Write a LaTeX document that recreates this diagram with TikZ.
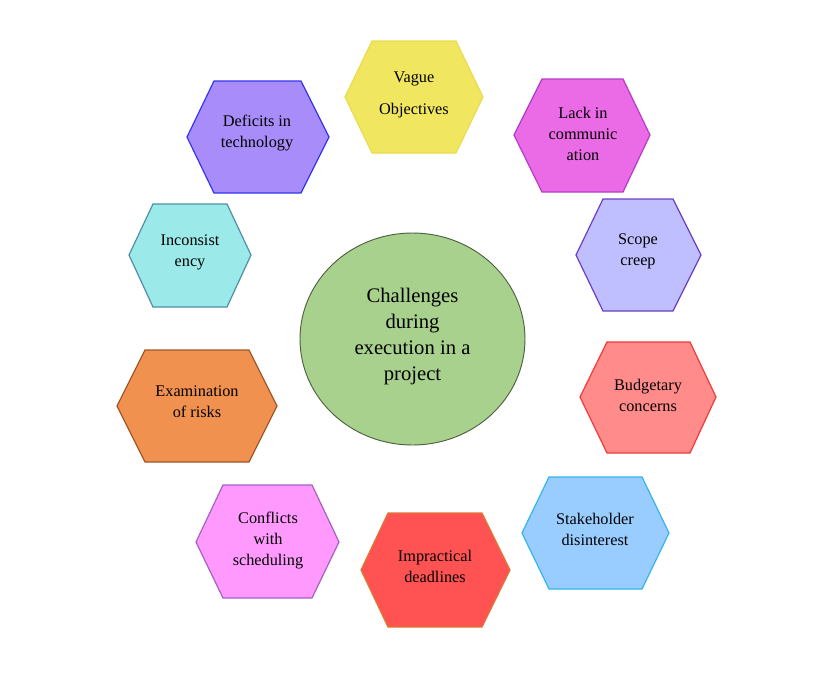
\documentclass[tikz,border=0pt]{standalone}
\usepackage{fontspec}
\setmainfont{Liberation Serif}
\definecolor{cVague}{HTML}{F0E660}\definecolor{bVague}{HTML}{EADC4E}
\definecolor{cDef}{HTML}{A88CFA}\definecolor{bDef}{HTML}{3535EE}
\definecolor{cLack}{HTML}{EB6AE6}\definecolor{bLack}{HTML}{B43CC8}
\definecolor{cInc}{HTML}{9CE9EA}\definecolor{bInc}{HTML}{4F8FA6}
\definecolor{cScope}{HTML}{BFBEFF}\definecolor{bScope}{HTML}{6A3FC4}
\definecolor{cExam}{HTML}{F0914F}\definecolor{bExam}{HTML}{A0582A}
\definecolor{cBud}{HTML}{FF8B8A}\definecolor{bBud}{HTML}{F23A3A}
\definecolor{cConf}{HTML}{FF99FD}\definecolor{bConf}{HTML}{A560C4}
\definecolor{cImp}{HTML}{FF5252}\definecolor{bImp}{HTML}{DD7733}
\definecolor{cStake}{HTML}{99CCFF}\definecolor{bStake}{HTML}{33B5EE}
\definecolor{cCenter}{HTML}{A9D18E}\definecolor{bCenter}{HTML}{4F6040}
\newcommand{\hexshape}[8]{% left right topleft topright top bottom midy colour-suffix
  \draw[hexline, fill=c#8, draw=b#8] (#1,#7) -- (#3,#5) -- (#4,#5) -- (#2,#7) -- (#4,#6) -- (#3,#6) -- cycle;}
\tikzset{
  hexline/.style={line width=0.9pt, line join=miter},
  hextext/.style={align=center, font=\fontsize{12.2pt}{15.75pt}\selectfont, inner sep=0pt},
  centertext/.style={align=center, font=\fontsize{15.5pt}{19.5pt}\selectfont, inner sep=0pt}
}
\begin{document}
\begin{tikzpicture}[x=0.75pt,y=-0.75pt]
\useasboundingbox (0,0) rectangle (840,676);
\fill[white] (0,0) rectangle (840,676);
% center ellipse
\draw[fill=cCenter, draw=bCenter, line width=0.7pt] (412.5,339) ellipse [x radius=112.5, y radius=106];
\node[centertext] (center) at (412.5,336.5) {Challenges\\during\\execution in a\\project};
% hexagons
\hexshape{345}{483}{372}{456}{41}{153}{97}{Vague}
\node[hextext, font=\fontsize{12.2pt}{24pt}\selectfont] (vague) at (414,94.5) {Vague\\Objectives};
\hexshape{187}{329}{214}{301}{81}{193}{137}{Def}
\node[hextext] (def) at (257,133.5) {Deficits in\\technology};
\hexshape{514}{650}{542}{623}{79}{192}{135}{Lack}
\node[hextext] (lack) at (583,134) {Lack in\\communic\\ation};
\hexshape{129}{251}{153}{227}{204}{307}{255}{Inc}
\node[hextext] (inc) at (190,252.5) {Inconsist\\ency};
\hexshape{576}{701}{603}{673}{199}{311}{255}{Scope}
\node[hextext] (scope) at (638,251.5) {Scope\\creep};
\hexshape{117}{277}{145}{249}{350}{462}{406}{Exam}
\node[hextext] (exam) at (197,402) {Examination\\of risks};
\hexshape{580}{716}{607}{690}{342}{453}{397}{Bud}
\node[hextext] (bud) at (648,395) {Budgetary\\concerns};
\hexshape{196}{339}{223}{312}{485}{598}{542}{Conf}
\node[hextext] (conf) at (268,540.5) {Conflicts\\with\\scheduling};
\hexshape{361}{510}{388}{482}{513}{627}{570}{Imp}
\node[hextext] (imp) at (435,566) {Impractical\\deadlines};
\hexshape{522}{669}{549}{642}{477}{589}{533}{Stake}
\node[hextext] (stake) at (595,529.5) {Stakeholder\\disinterest};
\end{tikzpicture}
\end{document}
